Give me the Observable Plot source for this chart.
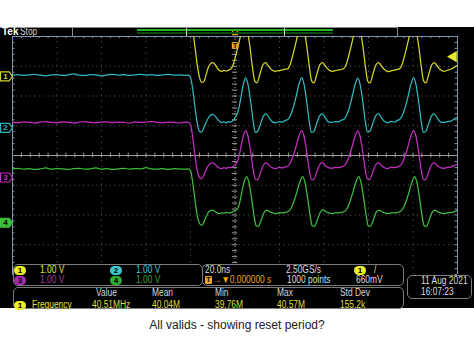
<!DOCTYPE html>
<html><head><meta charset="utf-8">
<script src="https://cdn.jsdelivr.net/npm/d3@7"></script>
<script src="https://cdn.jsdelivr.net/npm/@observablehq/plot@0.6"></script>
<style>
body{margin:0;background:#fff;width:474px;height:355px;overflow:hidden;position:relative;font-family:"Liberation Sans",Arial,sans-serif;}
#scope{position:absolute;left:0;top:27px;width:474px;height:281px;background:#000;overflow:hidden}
#scope svg{display:block}
.box{position:absolute;border:1px solid #7c7c7c;border-radius:5px;background:#000;box-sizing:border-box}
.t{position:absolute;font-family:"Liberation Sans",Arial,sans-serif;font-size:10px;line-height:12px;white-space:nowrap;color:#d6d6d6;transform:scaleX(0.84);transform-origin:0 50%}
.pill{position:absolute;width:12px;height:9px;border-radius:5px;color:#000;font-family:"Liberation Sans",sans-serif;font-size:8px;line-height:9px;text-align:center;font-weight:bold}
.hl{position:absolute;background:#8a8a8a}
#cap{position:absolute;top:317px;left:0;width:474px;text-align:center;font-size:12px;line-height:16px;color:#1a1a1a;font-family:"Liberation Sans",Arial,sans-serif}
</style></head>
<body>
<div id="scope"></div>
<div id="cap"></div>
<script>
// ---------- data ----------
const caption = "All valids - showing reset period?";
const channelNames = ["1", "2", "3", "4"];
const channelColors = ["#d4d42a", "#30b8c0", "#c42ec4", "#3cbe3c"];
const groundDiv = [2.66, 0.93, -0.74, -2.26];   // ground marker positions (divisions)
const voltsPerDiv = ["1.00 V", "1.00 V", "1.00 V", "1.00 V"];
const triggerLevel = 0.66;   // V on channel 1
const triggerTime = 0;       // ns

// time (ns), volts
const ch1 = [[-100,1.86],[-90,1.88],[-80,1.85],[-70,1.87],[-60,1.86],[-50,1.88],[-40,1.85],[-30,1.87],[-21,1.86],
[-20,1.82],[-19,1.55],[-18,1.0],[-17,0.40],[-16,-0.02],[-15,-0.20],[-14,-0.18],[-13,0.05],[-12,0.30],[-11,0.42],[-10,0.46],[-9,0.40],[-8,0.28],[-7,0.20],[-6,0.17],[-5,0.20],[-4,0.18],[-3,0.21],[-2,0.24],
[-0.8,0.40],[0.2,0.66],[1.5,1.05],[3.0,1.5],[4.5,1.72],[5.4,1.58],[6.7,1.0],[7.9,0.28],[8.9,-0.16],[9.9,-0.22],[11.2,0.08],[12.5,0.38],[13.7,0.46],[15.1,0.34],[16.5,0.22],[18.0,0.17],[19.5,0.19],[21.0,0.21],[22.5,0.24],
[23.6,0.25],[24.8,0.40],[25.8,0.66],[27.1,1.05],[28.6,1.5],[30.1,1.72],[31.0,1.58],[32.3,1.0],[33.5,0.28],[34.5,-0.16],[35.5,-0.22],[36.8,0.08],[38.1,0.38],[39.3,0.46],[40.7,0.34],[42.1,0.22],[43.6,0.17],[45.1,0.19],[46.6,0.22],[48.1,0.24],
[48.8,0.26],[50.0,0.40],[51.0,0.66],[52.3,1.05],[53.8,1.5],[55.3,1.72],[56.2,1.58],[57.5,1.0],[58.7,0.28],[59.7,-0.17],[60.7,-0.22],[62.0,0.08],[63.3,0.38],[64.5,0.46],[65.9,0.34],[67.3,0.22],[68.8,0.16],[70.3,0.19],[71.8,0.21],[73.3,0.24],
[73.9,0.25],[75.1,0.40],[76.1,0.66],[77.4,1.05],[78.9,1.5],[80.4,1.72],[81.3,1.58],[82.6,1.0],[83.8,0.28],[84.8,-0.16],[85.8,-0.22],[87.1,0.08],[88.4,0.38],[89.6,0.46],[91.0,0.34],[92.4,0.22],[93.9,0.17],[95.4,0.20],[96.9,0.24],[98.5,0.30],[100,0.38]];

const ch2 = [[-100,1.77],[-97.5,1.79],[-95,1.76],[-92.5,1.78],[-90,1.80],[-87.5,1.77],[-85,1.75],[-82.5,1.78],[-80,1.79],[-77.5,1.76],[-75,1.78],[-72.5,1.81],[-70,1.77],[-67.5,1.76],[-65,1.79],[-62.5,1.78],[-60,1.75],[-57.5,1.78],[-55,1.80],[-52.5,1.77],[-50,1.79],[-47.5,1.76],[-45,1.78],[-42.5,1.80],[-40,1.77],[-37.5,1.79],[-35,1.76],[-32.5,1.78],[-30,1.80],[-27.5,1.77],[-25,1.78],[-22.5,1.76],[-21,1.77],
[-20,1.70],[-19,1.30],[-18,0.70],[-17,0.18],[-16,-0.12],[-15,-0.14],[-14,0.0],[-13,0.18],[-12,0.33],[-11,0.42],[-10,0.45],[-9,0.40],[-8,0.30],[-7,0.22],[-6,0.18],[-5,0.20],[-4,0.17],[-3,0.21],[-2,0.19],[-1,0.24],[-0.3,0.30],
[0.8,0.45],[1.8,0.68],[2.6,1.0],[3.6,1.42],[4.8,1.68],[5.7,1.50],[7.0,0.90],[8.2,0.20],[9.1,-0.15],[10.1,-0.12],[11.5,0.14],[12.8,0.40],[14.0,0.47],[15.4,0.33],[16.8,0.20],[18.3,0.17],[19.8,0.21],[21.3,0.19],[22.6,0.25],
[23.5,0.27],[24.7,0.38],[26.0,0.64],[27.3,1.0],[28.7,1.45],[30.0,1.69],[30.9,1.50],[32.2,0.9],[33.4,0.2],[34.3,-0.15],[35.3,-0.13],[36.7,0.14],[38.0,0.40],[39.2,0.47],[40.6,0.34],[42.0,0.20],[43.5,0.18],[45.0,0.21],[46.5,0.20],[47.8,0.26],
[48.7,0.28],[49.9,0.38],[51.2,0.63],[52.5,1.0],[53.9,1.44],[55.2,1.67],[56.1,1.50],[57.4,0.9],[58.6,0.2],[59.5,-0.14],[60.5,-0.12],[61.9,0.14],[63.2,0.40],[64.4,0.48],[65.8,0.34],[67.2,0.21],[68.7,0.17],[70.2,0.22],[71.7,0.19],[73.0,0.25],
[73.8,0.27],[75.0,0.39],[76.3,0.64],[77.6,1.0],[79.0,1.45],[80.3,1.68],[81.2,1.50],[82.5,0.9],[83.7,0.2],[84.6,-0.15],[85.6,-0.13],[87.0,0.13],[88.3,0.40],[89.5,0.47],[90.9,0.33],[92.3,0.20],[93.8,0.18],[95.3,0.21],[96.8,0.22],[98.2,0.28],[100,0.36]];

const ch3 = [[-100,1.86],[-97.5,1.84],[-95,1.87],[-92.5,1.85],[-90,1.83],[-87.5,1.86],[-85,1.88],[-82.5,1.85],[-80,1.84],[-77.5,1.87],[-75,1.85],[-72.5,1.83],[-70,1.86],[-67.5,1.88],[-65,1.85],[-62.5,1.84],[-60,1.86],[-57.5,1.87],[-55,1.84],[-52.5,1.86],[-50,1.85],[-47.5,1.83],[-45,1.87],[-42.5,1.85],[-40,1.86],[-37.5,1.89],[-35,1.85],[-32.5,1.84],[-30,1.86],[-27.5,1.85],[-25,1.83],[-22.5,1.86],[-21,1.85],
[-20,1.78],[-19,1.35],[-18,0.75],[-17,0.25],[-16,0.0],[-15,-0.04],[-14,0.08],[-13,0.25],[-12,0.40],[-11,0.47],[-10,0.49],[-9,0.45],[-8,0.37],[-7,0.32],[-6,0.30],[-5,0.33],[-4,0.31],[-3,0.34],[-2,0.33],[-1,0.36],[-0.3,0.40],
[0.8,0.50],[1.8,0.72],[2.6,1.0],[3.6,1.36],[4.8,1.58],[5.7,1.43],[7.0,0.88],[8.2,0.25],[9.1,-0.06],[10.1,-0.08],[11.5,0.18],[12.8,0.42],[14.0,0.50],[15.4,0.40],[16.8,0.33],[18.3,0.30],[19.8,0.34],[21.3,0.32],[22.6,0.36],
[23.5,0.37],[24.7,0.47],[26.0,0.70],[27.3,1.0],[28.7,1.38],[30.0,1.58],[30.9,1.43],[32.2,0.88],[33.4,0.25],[34.3,-0.06],[35.3,-0.07],[36.7,0.18],[38.0,0.42],[39.2,0.51],[40.6,0.40],[42.0,0.33],[43.5,0.31],[45.0,0.34],[46.5,0.33],[47.8,0.36],
[48.7,0.38],[49.9,0.47],[51.2,0.70],[52.5,1.0],[53.9,1.37],[55.2,1.57],[56.1,1.42],[57.4,0.87],[58.6,0.24],[59.5,-0.05],[60.5,-0.07],[61.9,0.18],[63.2,0.42],[64.4,0.50],[65.8,0.41],[67.2,0.33],[68.7,0.30],[70.2,0.35],[71.7,0.33],[73.0,0.36],
[73.8,0.38],[75.0,0.47],[76.3,0.70],[77.6,1.0],[79.0,1.38],[80.3,1.58],[81.2,1.43],[82.5,0.88],[83.7,0.25],[84.6,-0.06],[85.6,-0.07],[87.0,0.18],[88.3,0.42],[89.5,0.50],[90.9,0.40],[92.3,0.33],[93.8,0.31],[95.3,0.34],[96.8,0.35],[98.2,0.39],[100,0.46]];

const ch4 = [[-100,1.81],[-97.5,1.83],[-95,1.80],[-92.5,1.82],[-90,1.79],[-87.5,1.81],[-85,1.84],[-82.5,1.80],[-80,1.82],[-77.5,1.81],[-75,1.79],[-72.5,1.82],[-70,1.83],[-67.5,1.80],[-65,1.81],[-62.5,1.84],[-60,1.80],[-57.5,1.82],[-55,1.79],[-52.5,1.81],[-50,1.83],[-47.5,1.80],[-45,1.82],[-42.5,1.81],[-40,1.85],[-37.5,1.81],[-35,1.80],[-32.5,1.82],[-30,1.79],[-27.5,1.82],[-25,1.81],[-22.5,1.80],[-21,1.81],
[-20,1.75],[-19,1.35],[-18,0.78],[-17,0.25],[-16,-0.02],[-15,-0.09],[-14,0.02],[-13,0.20],[-12,0.35],[-11,0.41],[-10,0.42],[-9,0.38],[-8,0.33],[-7,0.31],[-6,0.33],[-5,0.32],[-4,0.35],[-3,0.33],[-2,0.34],[-1,0.37],[0.1,0.40],
[1.2,0.48],[2.2,0.70],[3.0,1.0],[4.0,1.35],[5.2,1.55],[6.1,1.40],[7.4,0.85],[8.6,0.22],[9.5,-0.10],[10.5,-0.12],[11.9,0.12],[13.2,0.36],[14.4,0.42],[15.8,0.36],[17.2,0.32],[18.7,0.31],[20.2,0.34],[21.7,0.33],[23.0,0.36],
[23.9,0.38],[25.1,0.48],[26.4,0.70],[27.7,1.0],[29.1,1.36],[30.4,1.55],[31.3,1.40],[32.6,0.85],[33.8,0.22],[34.7,-0.10],[35.7,-0.12],[37.1,0.12],[38.4,0.36],[39.6,0.43],[41.0,0.36],[42.4,0.32],[43.9,0.31],[45.4,0.34],[46.9,0.33],[48.2,0.36],
[49.1,0.38],[50.3,0.47],[51.6,0.70],[52.9,1.0],[54.3,1.36],[55.6,1.55],[56.5,1.40],[57.8,0.85],[59.0,0.22],[59.9,-0.11],[60.9,-0.12],[62.3,0.12],[63.6,0.37],[64.8,0.42],[66.2,0.36],[67.6,0.32],[69.1,0.31],[70.6,0.34],[72.1,0.33],[73.4,0.36],
[74.3,0.38],[75.5,0.48],[76.8,0.70],[78.1,1.0],[79.5,1.36],[80.7,1.55],[81.6,1.40],[82.9,0.85],[84.1,0.22],[85.0,-0.10],[86.0,-0.13],[87.4,0.12],[88.7,0.36],[89.9,0.42],[91.3,0.36],[92.7,0.32],[94.2,0.31],[95.7,0.34],[97.2,0.34],[98.6,0.37],[100,0.42]];

const traces = [ch1, ch2, ch3, ch4];

// graticule
const timeDivs = [-100,-80,-60,-40,-20,0,20,40,60,80,100];
const voltDivs = [-4,-3,-2,-1,0,1,2,3,4];

// readouts
const timebase = "20.0ns", sampleRate = "2.50GS/s", recordLen = "1000 points", trigLevelText = "660mV", trigPos = "0.000000 s";
const measName = "Frequency";
const measHeaders = ["Value", "Mean", "Min", "Max", "Std Dev"];
const measValues = ["40.51MHz", "40.04M", "39.76M", "40.57M", "155.2k"];
const dateText = "11 Aug 2021", timeText = "16:07:23";

// ---------- chart ----------
const minorT = d3.range(-100, 100.01, 4);
const minorV = d3.range(-4, 4.01, 0.2);
const pointer = {draw(ctx, size) {
  const r = Math.sqrt(size / Math.PI), w = r * 1.2, h = r * 0.9;
  ctx.moveTo(-w, -h); ctx.lineTo(w * 0.45, -h); ctx.lineTo(w, 0); ctx.lineTo(w * 0.45, h); ctx.lineTo(-w, h); ctx.closePath();
}};
const markers = channelNames.map((n, i) => ({n, g: groundDiv[i], c: channelColors[i], filled: i === 3}));
const gridCol = "#5c5c5c", edgeCol = "#8493ad", centerCol = "#9a9a9a";

const lineMarks = traces.map((data, i) => Plot.line(data, {
  x: d => d[0], y: d => d[1] + groundDiv[i], stroke: channelColors[i], strokeWidth: 1.25,
  curve: "monotone-x", clip: true
}));

const plot = Plot.plot({
  width: 474, height: 281, marginTop: 9, marginBottom: 34, marginLeft: 12, marginRight: 17,
  x: {domain: [-100, 100], axis: null},
  y: {domain: [-4, 4], axis: null},
  style: {background: "#000", overflow: "visible"},
  marks: [
    Plot.ruleX(timeDivs.filter(t => t !== 0 && Math.abs(t) !== 100), {stroke: gridCol, strokeDasharray: "1,4.95", y1: -4, y2: 4}),
    Plot.ruleY(voltDivs.filter(v => v !== 0 && Math.abs(v) !== 4), {stroke: gridCol, strokeDasharray: "1,3.45"}),
    Plot.ruleY([0], {stroke: centerCol, strokeWidth: 1}),
    Plot.ruleX(minorT, {y1: -0.08, y2: 0.08, stroke: centerCol}),
    Plot.ruleX([0], {stroke: centerCol, strokeDasharray: "1,2", y1: -4, y2: 4}),
    Plot.ruleY(minorV, {x1: -1.2, x2: 1.2, stroke: centerCol}),
    Plot.ruleY(minorV, {x1: -100, x2: -98.9, stroke: edgeCol}),
    Plot.ruleY(minorV, {x1: 98.9, x2: 100, stroke: edgeCol}),
    Plot.ruleX(minorT, {y1: 4, y2: 3.93, stroke: edgeCol}),
    Plot.ruleX([-100, 100], {stroke: edgeCol, y1: -4, y2: 4}),
    Plot.ruleY([4], {stroke: edgeCol}),
    ...lineMarks,
    // ground markers
    Plot.dot(markers, {x: () => -102.7, y: "g", symbol: pointer, r: 5, stroke: "c", fill: d => d.filled ? d.c : "#000", strokeWidth: 1.2}),
    Plot.text(markers, {x: () => -103.2, y: "g", text: "n", fill: d => d.filled ? "#000" : d.c, fontSize: 8, fontWeight: "bold", fontFamily: "Liberation Sans"}),
    // trigger level marker (ch1)
    Plot.dot([triggerLevel], {x: () => 98.2, y: d => d + groundDiv[0], symbol: "triangle", rotate: -90, r: 3.2, fill: "#e8e830", stroke: "#e8e830"}),
    // trigger position markers
    Plot.dot([triggerTime], {x: d => d, y: () => 3.7, symbol: "square", r: 3.6, fill: "#f0a020"}),
    Plot.text([triggerTime], {x: d => d, y: () => 3.7, text: () => "T", fill: "#000", fontSize: 7, fontWeight: "bold"}),
    Plot.dot([triggerTime], {x: d => d, y: () => 4.14, symbol: "square", r: 2.6, fill: "none", stroke: "#f0a020", strokeWidth: 1.3})
  ]
});
document.getElementById("scope").appendChild(plot);

// ---------- Tek chrome (top bar, readouts) ----------
const B = document.body;
function el(cls, x, y, w, h, style = {}) {
  const d = document.createElement("div"); d.className = cls;
  Object.assign(d.style, {left: x + "px", top: y + "px", width: w + "px", height: h + "px"}, style);
  B.appendChild(d); return d;
}
function txt(x, yc, s, color, extra = {}) {
  const d = document.createElement("div"); d.className = "t"; d.textContent = s;
  Object.assign(d.style, {left: x + "px", top: (yc - 6) + "px", color}, extra);
  B.appendChild(d); return d;
}
function pill(x, yc, n, bg) {
  const d = el("pill", x, yc - 4.5, 12, 9, {background: bg}); d.textContent = n; return d;
}
// top bar
el("hl", 0, 27, 397, 1);
el("hl", 72, 27, 1, 9);
el("hl", 397, 27, 1, 9);
el("hl", 137, 29, 196, 2, {background: "#22b422"});
el("hl", 137, 32, 196, 2, {background: "#0c4a0c"});
el("hl", 186, 28, 1, 8, {background: "#d0d0d0"});
el("hl", 284, 28, 1, 8, {background: "#d0d0d0"});
txt(2, 32, "Tek", "#ffffff", {fontWeight: "bold", transform: "none"});
txt(20, 32, "Stop", "#cfcfcf");

// readout boxes
el("box", 13, 264, 190, 22);
el("box", 202, 264, 202, 22);
el("box", 13, 287, 391, 22);
el("box", 407, 275, 65, 24);

const pillCols = ["#ecec28", "#3cc8d0", "#a82aae", "#2eaa2e"];
const textCols = ["#e4e432", "#40c4cc", "#a23aa6", "#35a035"];
pill(14, 270, channelNames[0], pillCols[0]); txt(40, 270, voltsPerDiv[0], textCols[0]);
pill(110, 270, channelNames[1], pillCols[1]); txt(136, 270, voltsPerDiv[1], textCols[1]);
pill(14, 280, channelNames[2], pillCols[2]); txt(40, 280, voltsPerDiv[2], textCols[2]);
pill(110, 280, channelNames[3], pillCols[3]); txt(136, 280, voltsPerDiv[3], textCols[3]);

txt(205, 270, timebase, "#dcdcdc");
txt(286, 270, sampleRate, "#dcdcdc");
pill(354, 270, channelNames[0], pillCols[0]);
txt(374, 270, "/", "#dcdcdc");
const tb = el("pill", 205, 276, 7, 8, {background: "#f0a020", borderRadius: "1px", fontSize: "7px", lineHeight: "8px"}); tb.textContent = "T";
txt(213, 280, "\u2192\u25BC" + trigPos, "#f0a020");
txt(287, 280, recordLen, "#dcdcdc");
txt(356, 280, trigLevelText, "#dcdcdc");

txt(421, 281, dateText, "#dcdcdc");
txt(421, 292, timeText, "#dcdcdc");

pill(14, 305, channelNames[0], pillCols[0]);
txt(32, 305, measName, "#e4e432");
const hx = [96, 152, 215, 277, 340], vx = [92, 152, 215, 277, 340];
measHeaders.forEach((h, i) => txt(hx[i], 293, h, "#d6d6d6"));
measValues.forEach((v, i) => txt(vx[i], 305, v, "#dede3a"));

document.getElementById("cap").textContent = caption;
</script>
</body></html>
